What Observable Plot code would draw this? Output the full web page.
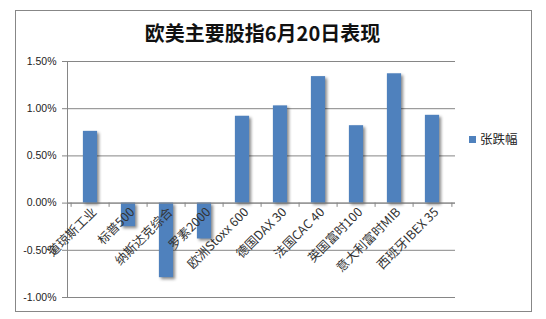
<!DOCTYPE html>
<html><head><meta charset="utf-8">
<script src="https://cdn.jsdelivr.net/npm/d3@7"></script>
<script src="https://cdn.jsdelivr.net/npm/@observablehq/plot@0.6"></script>
<style>
body{margin:0;background:#fff;}
#wrap{position:relative;width:546px;height:319px;overflow:hidden;background:#fff;}
#border{position:absolute;left:15px;top:10px;width:517px;height:302px;border:1px solid #878787;box-sizing:border-box;}
#chart{position:absolute;left:0;top:0;}
#title{position:absolute;left:0;top:20px;width:525px;text-align:center;font-family:"Noto Sans CJK SC",sans-serif;font-weight:bold;font-size:20px;line-height:26px;color:#111;}
#legend{position:absolute;left:469px;top:130px;font-family:"Noto Sans CJK SC",sans-serif;font-size:12.5px;line-height:18px;color:#222;display:flex;align-items:center;}
#legend .sw{width:7px;height:7px;background:#4F81BD;margin-right:4px;}
g[aria-label="bar"]{filter:drop-shadow(2px 2px 1.5px rgba(0,0,0,0.45));}
</style>
</head><body>
<div id="wrap">
  <div id="border"></div>
  <div id="chart"></div>
  <div id="title">欧美主要股指6月20日表现</div>
  <div id="legend"><div class="sw"></div><span>张跌幅</span></div>
</div>
<script>
const categories = ["道琼斯工业","标普500","纳斯达克综合","罗素2000","欧洲Stoxx 600","德国DAX 30","法国CAC 40","英国富时100","意大利富时MIB","西班牙IBEX 35"];
const values = [0.76, -0.25, -0.79, -0.38, 0.92, 1.03, 1.34, 0.82, 1.37, 0.93];
const yTicks = [-1, -0.5, 0, 0.5, 1, 1.5];
const seriesName = "张跌幅";

const data = categories.map((name, i) => ({name, value: values[i]}));
const W = 546, H = 319, mL = 67, mR = 91;
const band = (W - mL - mR) / categories.length;
const gray = "#868686";

const chart = Plot.plot({
  width: W, height: H,
  marginLeft: mL, marginRight: mR, marginTop: 61, marginBottom: 22,
  style: {background: "transparent", fontFamily: "Liberation Sans, Arial, sans-serif", fontSize: "10.5px", color: "#222"},
  x: {type: "band", domain: categories, padding: 0, axis: null},
  y: {domain: [-1, 1.5], axis: null},
  marks: [
    Plot.gridY(yTicks, {stroke: gray, strokeOpacity: 1}),
    Plot.frame({anchor: "left", stroke: gray}),
    Plot.barY(data, {x: "name", y: "value", fill: "#4F81BD", insetLeft: (band - 15) / 2, insetRight: (band - 15) / 2}),
    Plot.ruleY([0], {stroke: gray}),
    Plot.ruleX(categories, {x: d => d, y1: 0, y2: -0.045, dx: -band / 2, stroke: gray}),
    Plot.ruleX(categories.slice(-1), {x: d => d, y1: 0, y2: -0.045, dx: band / 2, stroke: gray}),
    Plot.axisY(yTicks, {tickSize: 5, tickPadding: 6, tickFormat: d => d.toFixed(2) + "%", stroke: gray, fill: "#222", label: null}),
    Plot.text(data, {x: "name", y: 0, text: "name", rotate: -45, textAnchor: "end", dx: 4, dy: 7, fontSize: 12.5, fill: "#333", fontFamily: "Noto Sans CJK SC, sans-serif"})
  ]
});
document.getElementById("chart").appendChild(chart);
</script>
</body></html>
